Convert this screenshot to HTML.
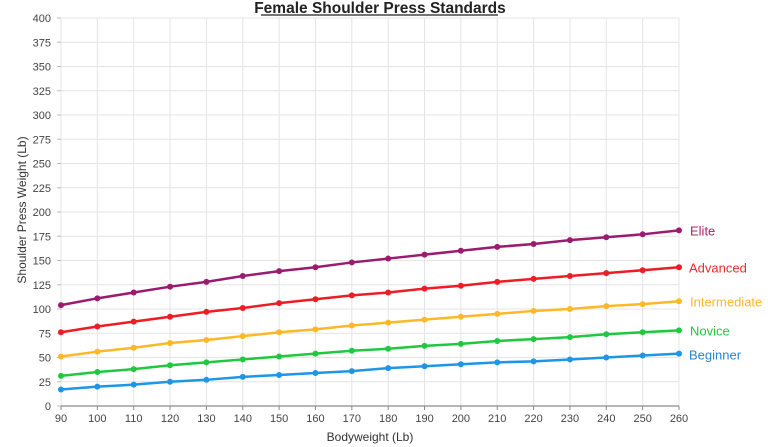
<!DOCTYPE html>
<html><head><meta charset="utf-8"><style>
html,body{margin:0;padding:0;background:#fff;}
svg{display:block;font-family:"Liberation Sans",Arial,sans-serif;}
</style></head><body>
<svg width="768" height="447" viewBox="0 0 768 447" xmlns="http://www.w3.org/2000/svg">
<defs>
<marker id="mE" markerWidth="8" markerHeight="8" refX="4" refY="4" markerUnits="userSpaceOnUse"><circle cx="4" cy="4" r="3" fill="#9b1b6e"/></marker>
<marker id="mA" markerWidth="8" markerHeight="8" refX="4" refY="4" markerUnits="userSpaceOnUse"><circle cx="4" cy="4" r="3" fill="#ee1c24"/></marker>
<marker id="mI" markerWidth="8" markerHeight="8" refX="4" refY="4" markerUnits="userSpaceOnUse"><circle cx="4" cy="4" r="3" fill="#fdb827"/></marker>
<marker id="mN" markerWidth="8" markerHeight="8" refX="4" refY="4" markerUnits="userSpaceOnUse"><circle cx="4" cy="4" r="3" fill="#20c840"/></marker>
<marker id="mB" markerWidth="8" markerHeight="8" refX="4" refY="4" markerUnits="userSpaceOnUse"><circle cx="4" cy="4" r="3" fill="#1e96e8"/></marker>
</defs>
<rect width="768" height="447" fill="#fff"/>
<g stroke="#e4e4e4" stroke-width="1">
<line x1="61" y1="381.75" x2="679" y2="381.75"/>
<line x1="61" y1="357.5" x2="679" y2="357.5"/>
<line x1="61" y1="333.25" x2="679" y2="333.25"/>
<line x1="61" y1="309" x2="679" y2="309"/>
<line x1="61" y1="284.75" x2="679" y2="284.75"/>
<line x1="61" y1="260.5" x2="679" y2="260.5"/>
<line x1="61" y1="236.25" x2="679" y2="236.25"/>
<line x1="61" y1="212" x2="679" y2="212"/>
<line x1="61" y1="187.75" x2="679" y2="187.75"/>
<line x1="61" y1="163.5" x2="679" y2="163.5"/>
<line x1="61" y1="139.25" x2="679" y2="139.25"/>
<line x1="61" y1="115" x2="679" y2="115"/>
<line x1="61" y1="90.75" x2="679" y2="90.75"/>
<line x1="61" y1="66.5" x2="679" y2="66.5"/>
<line x1="61" y1="42.25" x2="679" y2="42.25"/>
<line x1="61" y1="18" x2="679" y2="18"/>
<line x1="61" y1="18" x2="61" y2="406"/>
<line x1="97.35" y1="18" x2="97.35" y2="406"/>
<line x1="133.7" y1="18" x2="133.7" y2="406"/>
<line x1="170.06" y1="18" x2="170.06" y2="406"/>
<line x1="206.41" y1="18" x2="206.41" y2="406"/>
<line x1="242.76" y1="18" x2="242.76" y2="406"/>
<line x1="279.12" y1="18" x2="279.12" y2="406"/>
<line x1="315.47" y1="18" x2="315.47" y2="406"/>
<line x1="351.82" y1="18" x2="351.82" y2="406"/>
<line x1="388.18" y1="18" x2="388.18" y2="406"/>
<line x1="424.53" y1="18" x2="424.53" y2="406"/>
<line x1="460.88" y1="18" x2="460.88" y2="406"/>
<line x1="497.24" y1="18" x2="497.24" y2="406"/>
<line x1="533.59" y1="18" x2="533.59" y2="406"/>
<line x1="569.94" y1="18" x2="569.94" y2="406"/>
<line x1="606.29" y1="18" x2="606.29" y2="406"/>
<line x1="642.65" y1="18" x2="642.65" y2="406"/>
<line x1="679" y1="18" x2="679" y2="406"/>
</g>
<g stroke="#bbb" stroke-width="1">
<line x1="57" y1="406" x2="61" y2="406"/><line x1="57" y1="381.75" x2="61" y2="381.75"/><line x1="57" y1="357.5" x2="61" y2="357.5"/><line x1="57" y1="333.25" x2="61" y2="333.25"/><line x1="57" y1="309" x2="61" y2="309"/><line x1="57" y1="284.75" x2="61" y2="284.75"/><line x1="57" y1="260.5" x2="61" y2="260.5"/><line x1="57" y1="236.25" x2="61" y2="236.25"/><line x1="57" y1="212" x2="61" y2="212"/><line x1="57" y1="187.75" x2="61" y2="187.75"/><line x1="57" y1="163.5" x2="61" y2="163.5"/><line x1="57" y1="139.25" x2="61" y2="139.25"/><line x1="57" y1="115" x2="61" y2="115"/><line x1="57" y1="90.75" x2="61" y2="90.75"/><line x1="57" y1="66.5" x2="61" y2="66.5"/><line x1="57" y1="42.25" x2="61" y2="42.25"/><line x1="57" y1="18" x2="61" y2="18"/>
</g>
<line x1="61" y1="406" x2="679" y2="406" stroke="#8a8a8a" stroke-width="1.2"/>
<g stroke="#8a8a8a" stroke-width="1">
<line x1="61" y1="406" x2="61" y2="410"/><line x1="97.35" y1="406" x2="97.35" y2="410"/><line x1="133.7" y1="406" x2="133.7" y2="410"/><line x1="170.06" y1="406" x2="170.06" y2="410"/><line x1="206.41" y1="406" x2="206.41" y2="410"/><line x1="242.76" y1="406" x2="242.76" y2="410"/><line x1="279.12" y1="406" x2="279.12" y2="410"/><line x1="315.47" y1="406" x2="315.47" y2="410"/><line x1="351.82" y1="406" x2="351.82" y2="410"/><line x1="388.18" y1="406" x2="388.18" y2="410"/><line x1="424.53" y1="406" x2="424.53" y2="410"/><line x1="460.88" y1="406" x2="460.88" y2="410"/><line x1="497.24" y1="406" x2="497.24" y2="410"/><line x1="533.59" y1="406" x2="533.59" y2="410"/><line x1="569.94" y1="406" x2="569.94" y2="410"/><line x1="606.29" y1="406" x2="606.29" y2="410"/><line x1="642.65" y1="406" x2="642.65" y2="410"/><line x1="679" y1="406" x2="679" y2="410"/>
</g>
<g font-size="11" fill="#444" text-anchor="end">
<text x="51" y="410">0</text><text x="51" y="385.75">25</text><text x="51" y="361.5">50</text><text x="51" y="337.25">75</text><text x="51" y="313">100</text><text x="51" y="288.75">125</text><text x="51" y="264.5">150</text><text x="51" y="240.25">175</text><text x="51" y="216">200</text><text x="51" y="191.75">225</text><text x="51" y="167.5">250</text><text x="51" y="143.25">275</text><text x="51" y="119">300</text><text x="51" y="94.75">325</text><text x="51" y="70.5">350</text><text x="51" y="46.25">375</text><text x="51" y="22">400</text>
</g>
<g font-size="11" fill="#444" text-anchor="middle">
<text x="61" y="422">90</text><text x="97.35" y="422">100</text><text x="133.7" y="422">110</text><text x="170.06" y="422">120</text><text x="206.41" y="422">130</text><text x="242.76" y="422">140</text><text x="279.12" y="422">150</text><text x="315.47" y="422">160</text><text x="351.82" y="422">170</text><text x="388.18" y="422">180</text><text x="424.53" y="422">190</text><text x="460.88" y="422">200</text><text x="497.24" y="422">210</text><text x="533.59" y="422">220</text><text x="569.94" y="422">230</text><text x="606.29" y="422">240</text><text x="642.65" y="422">250</text><text x="679" y="422">260</text>
</g>
<text x="370" y="441" font-size="12" fill="#333" text-anchor="middle">Bodyweight (Lb)</text>
<text transform="translate(26,210) rotate(-90)" font-size="12" fill="#333" text-anchor="middle">Shoulder Press  Weight (Lb)</text>
<text x="380" y="13" font-size="15.5" font-weight="bold" fill="#222" text-anchor="middle">Female Shoulder Press Standards</text>
<line x1="261" y1="15" x2="498" y2="15" stroke="#222" stroke-width="1.3"/>
<g fill="none" stroke-width="2.5" stroke-linejoin="round">
<polyline stroke="#9b1b6e" marker-start="url(#mE)" marker-mid="url(#mE)" marker-end="url(#mE)" points="61,305.12 97.35,298.33 133.7,292.51 170.06,286.69 206.41,281.84 242.76,276.02 279.12,271.17 315.47,267.29 351.82,262.44 388.18,258.56 424.53,254.68 460.88,250.8 497.24,246.92 533.59,244.01 569.94,240.13 606.29,237.22 642.65,234.31 679,230.43"/>
<polyline stroke="#ee1c24" marker-start="url(#mA)" marker-mid="url(#mA)" marker-end="url(#mA)" points="61,332.28 97.35,326.46 133.7,321.61 170.06,316.76 206.41,311.91 242.76,308.03 279.12,303.18 315.47,299.3 351.82,295.42 388.18,292.51 424.53,288.63 460.88,285.72 497.24,281.84 533.59,278.93 569.94,276.02 606.29,273.11 642.65,270.2 679,267.29"/>
<polyline stroke="#fdb827" marker-start="url(#mI)" marker-mid="url(#mI)" marker-end="url(#mI)" points="61,356.53 97.35,351.68 133.7,347.8 170.06,342.95 206.41,340.04 242.76,336.16 279.12,332.28 315.47,329.37 351.82,325.49 388.18,322.58 424.53,319.67 460.88,316.76 497.24,313.85 533.59,310.94 569.94,309 606.29,306.09 642.65,304.15 679,301.24"/>
<polyline stroke="#20c840" marker-start="url(#mN)" marker-mid="url(#mN)" marker-end="url(#mN)" points="61,375.93 97.35,372.05 133.7,369.14 170.06,365.26 206.41,362.35 242.76,359.44 279.12,356.53 315.47,353.62 351.82,350.71 388.18,348.77 424.53,345.86 460.88,343.92 497.24,341.01 533.59,339.07 569.94,337.13 606.29,334.22 642.65,332.28 679,330.34"/>
<polyline stroke="#1e96e8" marker-start="url(#mB)" marker-mid="url(#mB)" marker-end="url(#mB)" points="61,389.51 97.35,386.6 133.7,384.66 170.06,381.75 206.41,379.81 242.76,376.9 279.12,374.96 315.47,373.02 351.82,371.08 388.18,368.17 424.53,366.23 460.88,364.29 497.24,362.35 533.59,361.38 569.94,359.44 606.29,357.5 642.65,355.56 679,353.62"/>
</g>
<g font-size="13">
<text x="690" y="235.5" fill="#a8246e">Elite</text>
<text x="689" y="272.5" fill="#ee2a2a">Advanced</text>
<text x="690" y="306.5" fill="#fdb827">Intermediate</text>
<text x="690" y="335.5" fill="#22c444">Novice</text>
<text x="689" y="359.5" fill="#2a84d0">Beginner</text>
</g>
</svg>
</body></html>
